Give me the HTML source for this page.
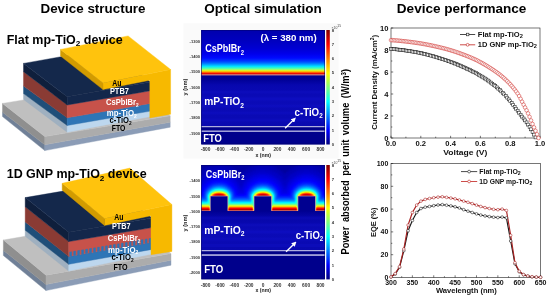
<!DOCTYPE html>
<html><head><meta charset="utf-8"><title>Graphical abstract</title>
<style>
html,body{margin:0;padding:0;background:#fff;}
body{width:550px;height:298px;overflow:hidden;}
svg{display:block;font-family:"Liberation Sans",sans-serif;}
</style></head><body>
<svg width="550" height="298" viewBox="0 0 550 298">
<defs>
<filter id="jet" x="0" y="0" width="100%" height="100%" color-interpolation-filters="sRGB" filterUnits="objectBoundingBox">
<feGaussianBlur stdDeviation="1.0"/>
<feComponentTransfer>
<feFuncR type="table" tableValues="0.000 0.000 0.000 0.000 0.000 0.000 0.000 0.000 0.000 0.000 0.000 0.000 0.000 0.000 0.000 0.000 0.000 0.000 0.000 0.000 0.000 0.000 0.000 0.000 0.050 0.111 0.173 0.234 0.295 0.356 0.417 0.479 0.540 0.601 0.663 0.724 0.785 0.846 0.908 0.969 1.000 1.000 1.000 1.000 1.000 1.000 1.000 1.000 1.000 1.000 1.000 1.000 1.000 1.000 1.000 1.000 0.990 0.929 0.868 0.806 0.745 0.684 0.623 0.561 0.500"/>
<feFuncG type="table" tableValues="0.000 0.000 0.000 0.000 0.000 0.000 0.000 0.009 0.070 0.131 0.192 0.254 0.315 0.376 0.438 0.499 0.560 0.621 0.683 0.744 0.805 0.866 0.927 0.989 1.000 1.000 1.000 1.000 1.000 1.000 1.000 1.000 1.000 1.000 1.000 1.000 1.000 1.000 1.000 1.000 0.970 0.909 0.848 0.786 0.725 0.664 0.603 0.541 0.480 0.419 0.357 0.296 0.235 0.174 0.112 0.051 0.000 0.000 0.000 0.000 0.000 0.000 0.000 0.000 0.000"/>
<feFuncB type="table" tableValues="0.580 0.641 0.703 0.764 0.825 0.886 0.948 1.000 1.000 1.000 1.000 1.000 1.000 1.000 1.000 1.000 1.000 1.000 1.000 1.000 1.000 1.000 1.000 1.000 0.950 0.889 0.827 0.766 0.705 0.644 0.583 0.521 0.460 0.399 0.337 0.276 0.215 0.154 0.092 0.031 0.000 0.000 0.000 0.000 0.000 0.000 0.000 0.000 0.000 0.000 0.000 0.000 0.000 0.000 0.000 0.000 0.000 0.000 0.000 0.000 0.000 0.000 0.000 0.000 0.000"/>
<feFuncA type="linear" slope="0" intercept="1"/>
</feComponentTransfer>
</filter>

<linearGradient id="cbar" x1="0" y1="0" x2="0" y2="1"><stop offset="0.0000" stop-color="#800000"/><stop offset="0.0625" stop-color="#bf0000"/><stop offset="0.1250" stop-color="#ff0000"/><stop offset="0.1875" stop-color="#ff4000"/><stop offset="0.2500" stop-color="#ff8000"/><stop offset="0.3125" stop-color="#ffbf00"/><stop offset="0.3750" stop-color="#ffff00"/><stop offset="0.4375" stop-color="#bfff40"/><stop offset="0.5000" stop-color="#80ff80"/><stop offset="0.5625" stop-color="#40ffbf"/><stop offset="0.6250" stop-color="#00ffff"/><stop offset="0.6875" stop-color="#00bfff"/><stop offset="0.7500" stop-color="#0080ff"/><stop offset="0.8125" stop-color="#0040ff"/><stop offset="0.8750" stop-color="#0000ff"/><stop offset="0.9375" stop-color="#0000bf"/><stop offset="1.0000" stop-color="#000080"/></linearGradient>
<linearGradient id="h1" gradientUnits="userSpaceOnUse" x1="0" y1="30.00" x2="0" y2="144.30"><stop offset="0.0000" stop-color="#0000ad"/><stop offset="0.0875" stop-color="#0000bd"/><stop offset="0.1575" stop-color="#0000d1"/><stop offset="0.2100" stop-color="#0000eb"/><stop offset="0.2450" stop-color="#000aff"/><stop offset="0.2712" stop-color="#0038ff"/><stop offset="0.2887" stop-color="#006bff"/><stop offset="0.3062" stop-color="#00b2ff"/><stop offset="0.3185" stop-color="#00e5ff"/><stop offset="0.3377" stop-color="#57ffa8"/><stop offset="0.3526" stop-color="#d1ff2e"/><stop offset="0.3648" stop-color="#ffb300"/><stop offset="0.3745" stop-color="#ff4200"/><stop offset="0.3823" stop-color="#e50000"/><stop offset="0.3885" stop-color="#9e0000"/><stop offset="0.3902" stop-color="#800000"/><stop offset="0.3903" stop-color="#00008e"/><stop offset="0.3964" stop-color="#00008e"/><stop offset="0.4287" stop-color="#000094"/><stop offset="0.4812" stop-color="#0707ae"/><stop offset="0.5949" stop-color="#0b0bb8"/><stop offset="0.7699" stop-color="#0a0ab4"/><stop offset="0.8416" stop-color="#0909b0"/></linearGradient>
<linearGradient id="tr" x1="0" y1="1" x2="0" y2="0"><stop offset="0" stop-color="#fff" stop-opacity="1"/><stop offset="0.12" stop-color="#fff" stop-opacity="0.9"/><stop offset="0.5" stop-color="#fff" stop-opacity="0.46"/><stop offset="0.8" stop-color="#fff" stop-opacity="0.12"/><stop offset="1" stop-color="#fff" stop-opacity="0"/></linearGradient>
<radialGradient id="dome" cx="0.5" cy="0.5" r="0.5"><stop offset="0" stop-color="#fff" stop-opacity="1"/><stop offset="0.15" stop-color="#fff" stop-opacity="0.97"/><stop offset="0.45" stop-color="#fff" stop-opacity="0.6"/><stop offset="0.75" stop-color="#fff" stop-opacity="0.22"/><stop offset="1" stop-color="#fff" stop-opacity="0"/></radialGradient>
<linearGradient id="wl" x1="1" y1="0" x2="0" y2="0"><stop offset="0" stop-color="#fff" stop-opacity="0.45"/><stop offset="1" stop-color="#fff" stop-opacity="0"/></linearGradient>
<linearGradient id="wr" x1="0" y1="0" x2="1" y2="0"><stop offset="0" stop-color="#fff" stop-opacity="0.45"/><stop offset="1" stop-color="#fff" stop-opacity="0"/></linearGradient>
<linearGradient id="bg2" x1="0" y1="0" x2="0" y2="1"><stop offset="0" stop-color="#030303"/><stop offset="0.6" stop-color="#030303"/><stop offset="1" stop-color="#030303"/></linearGradient>
<clipPath id="c2"><rect x="201.30" y="165" width="123.70" height="46"/></clipPath>
<marker id="ah" markerWidth="5" markerHeight="5" refX="2.6" refY="2.5" orient="auto" markerUnits="userSpaceOnUse"><path d="M0,0 L5,2.5 L0,5 z" fill="#fff"/></marker>
</defs>
<rect x="0" y="0" width="550" height="298" fill="#fff"/>
<text x="93.00" y="12.70" font-size="13.50" fill="#000" font-weight="bold" text-anchor="middle" textLength="105.00" lengthAdjust="spacingAndGlyphs" >Device structure</text>
<polygon points="2.50,112.20 44.80,144.80 44.80,150.60 2.50,116.60" fill="#708097" stroke="#708097" stroke-width="0.4" />
<polygon points="44.80,144.80 170.20,122.20 170.20,127.20 44.80,150.60" fill="#8b9cb6" stroke="#8b9cb6" stroke-width="0.4" />
<polygon points="2.50,103.40 44.80,136.60 44.80,144.80 2.50,112.20" fill="#8f8f8f" stroke="#8f8f8f" stroke-width="0.4" />
<polygon points="44.80,136.60 170.20,115.80 170.20,122.20 44.80,144.80" fill="#acacac" stroke="#acacac" stroke-width="0.4" />
<polygon points="2.50,103.40 44.80,136.60 170.20,115.80 127.90,82.60" fill="#bfbfbf" stroke="#bfbfbf" stroke-width="0.4" />
<polygon points="23.50,93.60 67.20,125.50 67.20,132.20 23.50,99.40" fill="#9fb0c0" stroke="#9fb0c0" stroke-width="0.4" />
<polygon points="67.20,125.50 150.50,111.10 150.50,116.50 67.20,132.20" fill="#bdd7ee" stroke="#bdd7ee" stroke-width="0.4" />
<polygon points="23.50,86.00 67.20,117.80 67.20,125.50 23.50,93.60" fill="#1f4e79" stroke="#1f4e79" stroke-width="0.4" />
<polygon points="67.20,117.80 150.50,103.40 150.50,111.10 67.20,125.50" fill="#2e75b6" stroke="#2e75b6" stroke-width="0.4" />
<polygon points="23.50,71.80 67.20,105.00 67.20,117.80 23.50,86.00" fill="#8a3b34" stroke="#8a3b34" stroke-width="0.4" />
<polygon points="67.20,105.00 150.50,90.80 150.50,103.40 67.20,117.80" fill="#c7524a" stroke="#c7524a" stroke-width="0.4" />
<polygon points="23.50,63.40 67.20,96.80 67.20,105.00 23.50,71.80" fill="#0f1f3c" stroke="#0f1f3c" stroke-width="0.4" />
<polygon points="67.20,96.80 150.50,82.00 150.50,90.80 67.20,105.00" fill="#13274b" stroke="#13274b" stroke-width="0.4" />
<polygon points="23.50,63.40 67.20,96.80 150.50,82.00 106.80,48.60" fill="#14284b" stroke="#14284b" stroke-width="0.4" />
<polygon points="103.00,83.00 170.60,69.50 170.60,114.20 149.80,117.90 149.80,80.25 103.00,89.60" fill="#f7b900" stroke="#f7b900" stroke-width="0.4" />
<polygon points="60.50,49.40 103.00,83.00 103.00,89.60 60.50,56.00" fill="#d29b00" stroke="#d29b00" stroke-width="0.4" />
<polygon points="60.50,49.40 103.00,83.00 170.60,69.50 128.10,35.90" fill="#ffc30d" stroke="#ffc30d" stroke-width="0.4" />
<text x="112.30" y="85.80" font-size="8.80" fill="#000" font-weight="bold" text-anchor="start" textLength="9.20" lengthAdjust="spacingAndGlyphs" >Au</text>
<text x="109.90" y="93.60" font-size="8.90" fill="#fff" font-weight="bold" text-anchor="start" textLength="19.00" lengthAdjust="spacingAndGlyphs" >PTB7</text>
<text x="106.10" y="104.80" font-size="9.70" fill="#fff" font-weight="bold" text-anchor="start" textLength="32.60" lengthAdjust="spacingAndGlyphs" >CsPbIBr<tspan font-size="62%" dy="0.32em">2</tspan></text>
<text x="106.80" y="115.60" font-size="9.70" fill="#fff" font-weight="bold" text-anchor="start" textLength="30.00" lengthAdjust="spacingAndGlyphs" >mp-TiO<tspan font-size="62%" dy="0.32em">2</tspan></text>
<text x="109.60" y="123.20" font-size="9.40" fill="#000" font-weight="bold" text-anchor="start" textLength="22.00" lengthAdjust="spacingAndGlyphs" >c-TiO<tspan font-size="62%" dy="0.32em">2</tspan></text>
<text x="111.70" y="130.70" font-size="9.20" fill="#000" font-weight="bold" text-anchor="start" textLength="13.60" lengthAdjust="spacingAndGlyphs" >FTO</text>
<polygon points="3.40,250.40 46.00,284.60 46.00,290.60 3.40,255.60" fill="#708097" stroke="#708097" stroke-width="0.4" />
<polygon points="46.00,284.60 171.00,260.20 171.00,265.20 46.00,290.60" fill="#8b9cb6" stroke="#8b9cb6" stroke-width="0.4" />
<polygon points="3.40,240.00 46.00,275.20 46.00,284.60 3.40,250.40" fill="#8f8f8f" stroke="#8f8f8f" stroke-width="0.4" />
<polygon points="46.00,275.20 171.00,253.60 171.00,260.20 46.00,284.60" fill="#acacac" stroke="#acacac" stroke-width="0.4" />
<polygon points="3.40,240.00 46.00,275.20 171.00,253.60 128.40,218.40" fill="#bfbfbf" stroke="#bfbfbf" stroke-width="0.4" />
<polygon points="25.20,230.30 68.70,264.30 68.70,271.10 25.20,236.20" fill="#9fb0c0" stroke="#9fb0c0" stroke-width="0.4" />
<polygon points="68.70,264.30 152.00,249.40 152.00,254.00 68.70,271.10" fill="#bdd7ee" stroke="#bdd7ee" stroke-width="0.4" />
<polygon points="25.20,221.90 68.70,256.40 68.70,264.30 25.20,230.30" fill="#1f4e79" stroke="#1f4e79" stroke-width="0.4" />
<polygon points="68.70,256.40 152.00,242.30 152.00,249.40 68.70,264.30" fill="#2e75b6" stroke="#2e75b6" stroke-width="0.4" />
<polygon points="25.20,206.80 68.70,241.60 68.70,256.40 25.20,221.90" fill="#8a3b34" stroke="#8a3b34" stroke-width="0.4" />
<polygon points="68.70,241.60 152.00,227.60 152.00,242.30 68.70,256.40" fill="#c7524a" stroke="#c7524a" stroke-width="0.4" />
<polygon points="25.20,197.60 68.70,232.20 68.70,241.60 25.20,206.80" fill="#0f1f3c" stroke="#0f1f3c" stroke-width="0.4" />
<polygon points="68.70,232.20 152.00,217.90 152.00,227.60 68.70,241.60" fill="#13274b" stroke="#13274b" stroke-width="0.4" />
<polygon points="25.20,197.60 68.70,232.20 152.00,217.90 108.50,183.30" fill="#14284b" stroke="#14284b" stroke-width="0.4" />
<polygon points="69.69,256.53 69.69,252.03 71.67,251.70 71.67,256.20" fill="#2e75b6" stroke="#2e75b6" stroke-width="0.4" />
<polygon points="73.66,255.86 73.66,251.36 75.64,251.02 75.64,255.52" fill="#2e75b6" stroke="#2e75b6" stroke-width="0.4" />
<polygon points="77.62,255.19 77.62,250.69 79.61,250.35 79.61,254.85" fill="#2e75b6" stroke="#2e75b6" stroke-width="0.4" />
<polygon points="81.59,254.52 81.59,250.02 83.58,249.68 83.58,254.18" fill="#2e75b6" stroke="#2e75b6" stroke-width="0.4" />
<polygon points="85.56,253.85 85.56,249.35 87.54,249.01 87.54,253.51" fill="#2e75b6" stroke="#2e75b6" stroke-width="0.4" />
<polygon points="89.53,253.18 89.53,248.68 91.51,248.34 91.51,252.84" fill="#2e75b6" stroke="#2e75b6" stroke-width="0.4" />
<polygon points="93.49,252.50 93.49,248.00 95.47,247.67 95.47,252.17" fill="#2e75b6" stroke="#2e75b6" stroke-width="0.4" />
<polygon points="97.46,251.83 97.46,247.33 99.44,247.00 99.44,251.50" fill="#2e75b6" stroke="#2e75b6" stroke-width="0.4" />
<polygon points="101.43,251.16 101.43,246.66 103.41,246.32 103.41,250.82" fill="#2e75b6" stroke="#2e75b6" stroke-width="0.4" />
<polygon points="105.39,250.49 105.39,245.99 107.38,245.65 107.38,250.15" fill="#2e75b6" stroke="#2e75b6" stroke-width="0.4" />
<polygon points="109.36,249.82 109.36,245.32 111.34,244.98 111.34,249.48" fill="#2e75b6" stroke="#2e75b6" stroke-width="0.4" />
<polygon points="113.33,249.15 113.33,244.65 115.31,244.31 115.31,248.81" fill="#2e75b6" stroke="#2e75b6" stroke-width="0.4" />
<polygon points="117.29,248.48 117.29,243.98 119.28,243.64 119.28,248.14" fill="#2e75b6" stroke="#2e75b6" stroke-width="0.4" />
<polygon points="121.26,247.80 121.26,243.30 123.24,242.97 123.24,247.47" fill="#2e75b6" stroke="#2e75b6" stroke-width="0.4" />
<polygon points="125.22,247.13 125.22,242.63 127.21,242.30 127.21,246.80" fill="#2e75b6" stroke="#2e75b6" stroke-width="0.4" />
<polygon points="129.19,246.46 129.19,241.96 131.18,241.62 131.18,246.12" fill="#2e75b6" stroke="#2e75b6" stroke-width="0.4" />
<polygon points="133.16,245.79 133.16,241.29 135.14,240.95 135.14,245.45" fill="#2e75b6" stroke="#2e75b6" stroke-width="0.4" />
<polygon points="137.12,245.12 137.12,240.62 139.11,240.28 139.11,244.78" fill="#2e75b6" stroke="#2e75b6" stroke-width="0.4" />
<polygon points="141.09,244.45 141.09,239.95 143.07,239.61 143.07,244.11" fill="#2e75b6" stroke="#2e75b6" stroke-width="0.4" />
<polygon points="145.06,243.78 145.06,239.28 147.04,238.94 147.04,243.44" fill="#2e75b6" stroke="#2e75b6" stroke-width="0.4" />
<polygon points="149.03,243.10 149.03,238.60 151.01,238.27 151.01,242.77" fill="#2e75b6" stroke="#2e75b6" stroke-width="0.4" />
<polygon points="104.40,218.50 171.90,204.50 171.90,251.40 151.00,254.70 151.00,215.73 104.40,225.40" fill="#f7b900" stroke="#f7b900" stroke-width="0.4" />
<polygon points="62.20,183.30 104.40,218.50 104.40,225.40 62.20,190.20" fill="#d29b00" stroke="#d29b00" stroke-width="0.4" />
<polygon points="62.20,183.30 104.40,218.50 171.90,204.50 129.80,168.10" fill="#ffc30d" stroke="#ffc30d" stroke-width="0.4" />
<text x="114.20" y="219.60" font-size="8.80" fill="#000" font-weight="bold" text-anchor="start" textLength="9.20" lengthAdjust="spacingAndGlyphs" >Au</text>
<text x="111.90" y="228.70" font-size="8.90" fill="#fff" font-weight="bold" text-anchor="start" textLength="18.60" lengthAdjust="spacingAndGlyphs" >PTB7</text>
<text x="107.70" y="240.60" font-size="9.70" fill="#fff" font-weight="bold" text-anchor="start" textLength="32.80" lengthAdjust="spacingAndGlyphs" >CsPbIBr<tspan font-size="62%" dy="0.32em">2</tspan></text>
<text x="108.10" y="252.50" font-size="9.70" fill="#fff" font-weight="bold" text-anchor="start" textLength="30.20" lengthAdjust="spacingAndGlyphs" >mp-TiO<tspan font-size="62%" dy="0.32em">2</tspan></text>
<text x="111.40" y="259.90" font-size="9.40" fill="#000" font-weight="bold" text-anchor="start" textLength="22.20" lengthAdjust="spacingAndGlyphs" >c-TiO<tspan font-size="62%" dy="0.32em">2</tspan></text>
<text x="113.50" y="269.80" font-size="9.20" fill="#000" font-weight="bold" text-anchor="start" textLength="14.20" lengthAdjust="spacingAndGlyphs" >FTO</text>
<text x="6.70" y="43.50" font-size="12.20" fill="#000" font-weight="bold" text-anchor="start" textLength="116.00" lengthAdjust="spacingAndGlyphs" >Flat mp-TiO<tspan font-size="65%" dy="0.34em">2</tspan><tspan dy="-0.22em"> device</tspan></text>
<text x="6.70" y="177.90" font-size="12.20" fill="#000" font-weight="bold" text-anchor="start" textLength="140.00" lengthAdjust="spacingAndGlyphs" >1D GNP mp-TiO<tspan font-size="65%" dy="0.34em">2</tspan><tspan dy="-0.22em"> device</tspan></text>
<rect x="183.5" y="23.3" width="155" height="135.2" fill="#fafafa"/>
<text x="263.00" y="12.70" font-size="13.50" fill="#000" font-weight="bold" text-anchor="middle" textLength="117.50" lengthAdjust="spacingAndGlyphs" >Optical simulation</text>
<rect x="201.30" y="30.00" width="123.70" height="114.30" fill="#00008c"/>
<rect x="201.30" y="30.00" width="123.70" height="96.20" fill="url(#h1)"/>
<rect x="201.30" y="74.35" width="123.70" height="1.0" fill="#f8a096"/>
<rect x="201.30" y="126.2" width="123.70" height="5.6" fill="#000088"/>
<rect x="201.30" y="126.2" width="123.70" height="1" fill="#d8d8f4"/>
<rect x="201.30" y="130.6" width="123.70" height="1.3" fill="#dedef8"/>
<rect x="201.30" y="131.8" width="123.70" height="12.50" fill="#00008c"/>
<rect x="201.30" y="165.00" width="123.70" height="114.30" fill="#00008c"/>
<g clip-path="url(#c2)"><g filter="url(#jet)" style="isolation:isolate">
<rect x="195.30" y="159.00" width="135.70" height="58.00" fill="url(#bg2)"/>
<g style="mix-blend-mode:lighten">
<rect x="204.85" y="195.00" width="5.40" height="15.70" fill="#222222" style="mix-blend-mode:lighten"/>
<rect x="205.85" y="195.00" width="4.40" height="15.70" fill="#2c2c2c" style="mix-blend-mode:lighten"/>
<rect x="206.65" y="195.00" width="3.60" height="15.70" fill="#393939" style="mix-blend-mode:lighten"/>
<rect x="207.35" y="195.00" width="2.90" height="15.70" fill="#494949" style="mix-blend-mode:lighten"/>
<rect x="207.95" y="195.00" width="2.30" height="15.70" fill="#585858" style="mix-blend-mode:lighten"/>
<rect x="208.55" y="195.00" width="1.70" height="15.70" fill="#686868" style="mix-blend-mode:lighten"/>
<rect x="209.15" y="195.00" width="1.10" height="15.70" fill="#787878" style="mix-blend-mode:lighten"/>
<rect x="209.75" y="195.00" width="0.50" height="15.70" fill="#878787" style="mix-blend-mode:lighten"/>
<rect x="191.30" y="177.70" width="18.95" height="36.00" fill="#080808" style="mix-blend-mode:lighten"/>
<rect x="191.30" y="182.70" width="18.95" height="31.00" fill="#0c0c0c" style="mix-blend-mode:lighten"/>
<rect x="191.30" y="186.70" width="18.95" height="27.00" fill="#101010" style="mix-blend-mode:lighten"/>
<rect x="191.30" y="189.70" width="18.95" height="24.00" fill="#141414" style="mix-blend-mode:lighten"/>
<rect x="191.30" y="192.20" width="18.95" height="21.50" fill="#171717" style="mix-blend-mode:lighten"/>
<rect x="191.30" y="194.20" width="18.95" height="19.50" fill="#1b1b1b" style="mix-blend-mode:lighten"/>
<rect x="191.30" y="195.70" width="18.95" height="18.00" fill="#222222" style="mix-blend-mode:lighten"/>
<rect x="191.30" y="197.20" width="18.95" height="16.50" fill="#2a2a2a" style="mix-blend-mode:lighten"/>
<rect x="191.30" y="198.50" width="18.95" height="15.20" fill="#313131" style="mix-blend-mode:lighten"/>
<rect x="191.30" y="199.70" width="18.95" height="14.00" fill="#3c3c3c" style="mix-blend-mode:lighten"/>
<rect x="191.30" y="200.70" width="18.95" height="13.00" fill="#464646" style="mix-blend-mode:lighten"/>
<rect x="191.30" y="201.60" width="18.95" height="12.10" fill="#515151" style="mix-blend-mode:lighten"/>
<rect x="191.30" y="202.40" width="18.95" height="11.30" fill="#5b5b5b" style="mix-blend-mode:lighten"/>
<rect x="191.30" y="203.30" width="18.95" height="10.40" fill="#686868" style="mix-blend-mode:lighten"/>
<rect x="191.30" y="203.90" width="18.95" height="9.80" fill="#727272" style="mix-blend-mode:lighten"/>
<rect x="191.30" y="204.50" width="18.95" height="9.20" fill="#7d7d7d" style="mix-blend-mode:lighten"/>
<rect x="191.30" y="205.00" width="18.95" height="8.70" fill="#878787" style="mix-blend-mode:lighten"/>
<rect x="191.30" y="205.50" width="18.95" height="8.20" fill="#929292" style="mix-blend-mode:lighten"/>
<rect x="191.30" y="206.00" width="18.95" height="7.70" fill="#9f9f9f" style="mix-blend-mode:lighten"/>
<rect x="191.30" y="206.40" width="18.95" height="7.30" fill="#acacac" style="mix-blend-mode:lighten"/>
<rect x="191.30" y="206.80" width="18.95" height="6.90" fill="#bbbbbb" style="mix-blend-mode:lighten"/>
<rect x="191.30" y="207.20" width="18.95" height="6.50" fill="#c6c6c6" style="mix-blend-mode:lighten"/>
<rect x="191.30" y="207.60" width="18.95" height="6.10" fill="#d0d0d0" style="mix-blend-mode:lighten"/>
<rect x="191.30" y="208.00" width="18.95" height="5.70" fill="#dbdbdb" style="mix-blend-mode:lighten"/>
<rect x="191.30" y="208.40" width="18.95" height="5.30" fill="#e5e5e5" style="mix-blend-mode:lighten"/>
<rect x="191.30" y="208.90" width="18.95" height="4.80" fill="#efefef" style="mix-blend-mode:lighten"/>
<rect x="191.30" y="209.40" width="18.95" height="4.30" fill="#f7f7f7" style="mix-blend-mode:lighten"/>
<rect x="191.30" y="209.90" width="18.95" height="3.80" fill="#ffffff" style="mix-blend-mode:lighten"/>
<rect x="227.85" y="195.00" width="5.40" height="15.70" fill="#222222" style="mix-blend-mode:lighten"/>
<rect x="248.60" y="195.00" width="5.40" height="15.70" fill="#222222" style="mix-blend-mode:lighten"/>
<rect x="227.85" y="195.00" width="4.40" height="15.70" fill="#2c2c2c" style="mix-blend-mode:lighten"/>
<rect x="249.60" y="195.00" width="4.40" height="15.70" fill="#2c2c2c" style="mix-blend-mode:lighten"/>
<rect x="227.85" y="195.00" width="3.60" height="15.70" fill="#393939" style="mix-blend-mode:lighten"/>
<rect x="250.40" y="195.00" width="3.60" height="15.70" fill="#393939" style="mix-blend-mode:lighten"/>
<rect x="227.85" y="195.00" width="2.90" height="15.70" fill="#494949" style="mix-blend-mode:lighten"/>
<rect x="251.10" y="195.00" width="2.90" height="15.70" fill="#494949" style="mix-blend-mode:lighten"/>
<rect x="227.85" y="195.00" width="2.30" height="15.70" fill="#585858" style="mix-blend-mode:lighten"/>
<rect x="251.70" y="195.00" width="2.30" height="15.70" fill="#585858" style="mix-blend-mode:lighten"/>
<rect x="227.85" y="195.00" width="1.70" height="15.70" fill="#686868" style="mix-blend-mode:lighten"/>
<rect x="252.30" y="195.00" width="1.70" height="15.70" fill="#686868" style="mix-blend-mode:lighten"/>
<rect x="227.85" y="195.00" width="1.10" height="15.70" fill="#787878" style="mix-blend-mode:lighten"/>
<rect x="252.90" y="195.00" width="1.10" height="15.70" fill="#787878" style="mix-blend-mode:lighten"/>
<rect x="227.85" y="195.00" width="0.50" height="15.70" fill="#878787" style="mix-blend-mode:lighten"/>
<rect x="253.50" y="195.00" width="0.50" height="15.70" fill="#878787" style="mix-blend-mode:lighten"/>
<rect x="227.85" y="177.70" width="26.15" height="36.00" fill="#080808" style="mix-blend-mode:lighten"/>
<rect x="227.85" y="182.70" width="26.15" height="31.00" fill="#0c0c0c" style="mix-blend-mode:lighten"/>
<rect x="227.85" y="186.70" width="26.15" height="27.00" fill="#101010" style="mix-blend-mode:lighten"/>
<rect x="227.85" y="189.70" width="26.15" height="24.00" fill="#141414" style="mix-blend-mode:lighten"/>
<rect x="227.85" y="192.20" width="26.15" height="21.50" fill="#171717" style="mix-blend-mode:lighten"/>
<rect x="227.85" y="194.20" width="26.15" height="19.50" fill="#1b1b1b" style="mix-blend-mode:lighten"/>
<rect x="227.85" y="195.70" width="26.15" height="18.00" fill="#222222" style="mix-blend-mode:lighten"/>
<rect x="227.85" y="197.20" width="26.15" height="16.50" fill="#2a2a2a" style="mix-blend-mode:lighten"/>
<rect x="227.85" y="198.50" width="26.15" height="15.20" fill="#313131" style="mix-blend-mode:lighten"/>
<rect x="227.85" y="199.70" width="26.15" height="14.00" fill="#3c3c3c" style="mix-blend-mode:lighten"/>
<rect x="227.85" y="200.70" width="26.15" height="13.00" fill="#464646" style="mix-blend-mode:lighten"/>
<rect x="227.85" y="201.60" width="26.15" height="12.10" fill="#515151" style="mix-blend-mode:lighten"/>
<rect x="227.85" y="202.40" width="26.15" height="11.30" fill="#5b5b5b" style="mix-blend-mode:lighten"/>
<rect x="227.85" y="203.30" width="26.15" height="10.40" fill="#686868" style="mix-blend-mode:lighten"/>
<rect x="227.85" y="203.90" width="26.15" height="9.80" fill="#727272" style="mix-blend-mode:lighten"/>
<rect x="227.85" y="204.50" width="26.15" height="9.20" fill="#7d7d7d" style="mix-blend-mode:lighten"/>
<rect x="227.85" y="205.00" width="26.15" height="8.70" fill="#878787" style="mix-blend-mode:lighten"/>
<rect x="227.85" y="205.50" width="26.15" height="8.20" fill="#929292" style="mix-blend-mode:lighten"/>
<rect x="227.85" y="206.00" width="26.15" height="7.70" fill="#9f9f9f" style="mix-blend-mode:lighten"/>
<rect x="227.85" y="206.40" width="26.15" height="7.30" fill="#acacac" style="mix-blend-mode:lighten"/>
<rect x="227.85" y="206.80" width="26.15" height="6.90" fill="#bbbbbb" style="mix-blend-mode:lighten"/>
<rect x="227.85" y="207.20" width="26.15" height="6.50" fill="#c6c6c6" style="mix-blend-mode:lighten"/>
<rect x="227.85" y="207.60" width="26.15" height="6.10" fill="#d0d0d0" style="mix-blend-mode:lighten"/>
<rect x="227.85" y="208.00" width="26.15" height="5.70" fill="#dbdbdb" style="mix-blend-mode:lighten"/>
<rect x="227.85" y="208.40" width="26.15" height="5.30" fill="#e5e5e5" style="mix-blend-mode:lighten"/>
<rect x="227.85" y="208.90" width="26.15" height="4.80" fill="#efefef" style="mix-blend-mode:lighten"/>
<rect x="227.85" y="209.40" width="26.15" height="4.30" fill="#f7f7f7" style="mix-blend-mode:lighten"/>
<rect x="227.85" y="209.90" width="26.15" height="3.80" fill="#ffffff" style="mix-blend-mode:lighten"/>
<rect x="271.60" y="195.00" width="5.40" height="15.70" fill="#222222" style="mix-blend-mode:lighten"/>
<rect x="292.50" y="195.00" width="5.40" height="15.70" fill="#222222" style="mix-blend-mode:lighten"/>
<rect x="271.60" y="195.00" width="4.40" height="15.70" fill="#2c2c2c" style="mix-blend-mode:lighten"/>
<rect x="293.50" y="195.00" width="4.40" height="15.70" fill="#2c2c2c" style="mix-blend-mode:lighten"/>
<rect x="271.60" y="195.00" width="3.60" height="15.70" fill="#393939" style="mix-blend-mode:lighten"/>
<rect x="294.30" y="195.00" width="3.60" height="15.70" fill="#393939" style="mix-blend-mode:lighten"/>
<rect x="271.60" y="195.00" width="2.90" height="15.70" fill="#494949" style="mix-blend-mode:lighten"/>
<rect x="295.00" y="195.00" width="2.90" height="15.70" fill="#494949" style="mix-blend-mode:lighten"/>
<rect x="271.60" y="195.00" width="2.30" height="15.70" fill="#585858" style="mix-blend-mode:lighten"/>
<rect x="295.60" y="195.00" width="2.30" height="15.70" fill="#585858" style="mix-blend-mode:lighten"/>
<rect x="271.60" y="195.00" width="1.70" height="15.70" fill="#686868" style="mix-blend-mode:lighten"/>
<rect x="296.20" y="195.00" width="1.70" height="15.70" fill="#686868" style="mix-blend-mode:lighten"/>
<rect x="271.60" y="195.00" width="1.10" height="15.70" fill="#787878" style="mix-blend-mode:lighten"/>
<rect x="296.80" y="195.00" width="1.10" height="15.70" fill="#787878" style="mix-blend-mode:lighten"/>
<rect x="271.60" y="195.00" width="0.50" height="15.70" fill="#878787" style="mix-blend-mode:lighten"/>
<rect x="297.40" y="195.00" width="0.50" height="15.70" fill="#878787" style="mix-blend-mode:lighten"/>
<rect x="271.60" y="177.70" width="26.30" height="36.00" fill="#080808" style="mix-blend-mode:lighten"/>
<rect x="271.60" y="182.70" width="26.30" height="31.00" fill="#0c0c0c" style="mix-blend-mode:lighten"/>
<rect x="271.60" y="186.70" width="26.30" height="27.00" fill="#101010" style="mix-blend-mode:lighten"/>
<rect x="271.60" y="189.70" width="26.30" height="24.00" fill="#141414" style="mix-blend-mode:lighten"/>
<rect x="271.60" y="192.20" width="26.30" height="21.50" fill="#171717" style="mix-blend-mode:lighten"/>
<rect x="271.60" y="194.20" width="26.30" height="19.50" fill="#1b1b1b" style="mix-blend-mode:lighten"/>
<rect x="271.60" y="195.70" width="26.30" height="18.00" fill="#222222" style="mix-blend-mode:lighten"/>
<rect x="271.60" y="197.20" width="26.30" height="16.50" fill="#2a2a2a" style="mix-blend-mode:lighten"/>
<rect x="271.60" y="198.50" width="26.30" height="15.20" fill="#313131" style="mix-blend-mode:lighten"/>
<rect x="271.60" y="199.70" width="26.30" height="14.00" fill="#3c3c3c" style="mix-blend-mode:lighten"/>
<rect x="271.60" y="200.70" width="26.30" height="13.00" fill="#464646" style="mix-blend-mode:lighten"/>
<rect x="271.60" y="201.60" width="26.30" height="12.10" fill="#515151" style="mix-blend-mode:lighten"/>
<rect x="271.60" y="202.40" width="26.30" height="11.30" fill="#5b5b5b" style="mix-blend-mode:lighten"/>
<rect x="271.60" y="203.30" width="26.30" height="10.40" fill="#686868" style="mix-blend-mode:lighten"/>
<rect x="271.60" y="203.90" width="26.30" height="9.80" fill="#727272" style="mix-blend-mode:lighten"/>
<rect x="271.60" y="204.50" width="26.30" height="9.20" fill="#7d7d7d" style="mix-blend-mode:lighten"/>
<rect x="271.60" y="205.00" width="26.30" height="8.70" fill="#878787" style="mix-blend-mode:lighten"/>
<rect x="271.60" y="205.50" width="26.30" height="8.20" fill="#929292" style="mix-blend-mode:lighten"/>
<rect x="271.60" y="206.00" width="26.30" height="7.70" fill="#9f9f9f" style="mix-blend-mode:lighten"/>
<rect x="271.60" y="206.40" width="26.30" height="7.30" fill="#acacac" style="mix-blend-mode:lighten"/>
<rect x="271.60" y="206.80" width="26.30" height="6.90" fill="#bbbbbb" style="mix-blend-mode:lighten"/>
<rect x="271.60" y="207.20" width="26.30" height="6.50" fill="#c6c6c6" style="mix-blend-mode:lighten"/>
<rect x="271.60" y="207.60" width="26.30" height="6.10" fill="#d0d0d0" style="mix-blend-mode:lighten"/>
<rect x="271.60" y="208.00" width="26.30" height="5.70" fill="#dbdbdb" style="mix-blend-mode:lighten"/>
<rect x="271.60" y="208.40" width="26.30" height="5.30" fill="#e5e5e5" style="mix-blend-mode:lighten"/>
<rect x="271.60" y="208.90" width="26.30" height="4.80" fill="#efefef" style="mix-blend-mode:lighten"/>
<rect x="271.60" y="209.40" width="26.30" height="4.30" fill="#f7f7f7" style="mix-blend-mode:lighten"/>
<rect x="271.60" y="209.90" width="26.30" height="3.80" fill="#ffffff" style="mix-blend-mode:lighten"/>
<rect x="315.50" y="195.00" width="5.40" height="15.70" fill="#222222" style="mix-blend-mode:lighten"/>
<rect x="315.50" y="195.00" width="4.40" height="15.70" fill="#2c2c2c" style="mix-blend-mode:lighten"/>
<rect x="315.50" y="195.00" width="3.60" height="15.70" fill="#393939" style="mix-blend-mode:lighten"/>
<rect x="315.50" y="195.00" width="2.90" height="15.70" fill="#494949" style="mix-blend-mode:lighten"/>
<rect x="315.50" y="195.00" width="2.30" height="15.70" fill="#585858" style="mix-blend-mode:lighten"/>
<rect x="315.50" y="195.00" width="1.70" height="15.70" fill="#686868" style="mix-blend-mode:lighten"/>
<rect x="315.50" y="195.00" width="1.10" height="15.70" fill="#787878" style="mix-blend-mode:lighten"/>
<rect x="315.50" y="195.00" width="0.50" height="15.70" fill="#878787" style="mix-blend-mode:lighten"/>
<rect x="315.50" y="177.70" width="19.50" height="36.00" fill="#080808" style="mix-blend-mode:lighten"/>
<rect x="315.50" y="182.70" width="19.50" height="31.00" fill="#0c0c0c" style="mix-blend-mode:lighten"/>
<rect x="315.50" y="186.70" width="19.50" height="27.00" fill="#101010" style="mix-blend-mode:lighten"/>
<rect x="315.50" y="189.70" width="19.50" height="24.00" fill="#141414" style="mix-blend-mode:lighten"/>
<rect x="315.50" y="192.20" width="19.50" height="21.50" fill="#171717" style="mix-blend-mode:lighten"/>
<rect x="315.50" y="194.20" width="19.50" height="19.50" fill="#1b1b1b" style="mix-blend-mode:lighten"/>
<rect x="315.50" y="195.70" width="19.50" height="18.00" fill="#222222" style="mix-blend-mode:lighten"/>
<rect x="315.50" y="197.20" width="19.50" height="16.50" fill="#2a2a2a" style="mix-blend-mode:lighten"/>
<rect x="315.50" y="198.50" width="19.50" height="15.20" fill="#313131" style="mix-blend-mode:lighten"/>
<rect x="315.50" y="199.70" width="19.50" height="14.00" fill="#3c3c3c" style="mix-blend-mode:lighten"/>
<rect x="315.50" y="200.70" width="19.50" height="13.00" fill="#464646" style="mix-blend-mode:lighten"/>
<rect x="315.50" y="201.60" width="19.50" height="12.10" fill="#515151" style="mix-blend-mode:lighten"/>
<rect x="315.50" y="202.40" width="19.50" height="11.30" fill="#5b5b5b" style="mix-blend-mode:lighten"/>
<rect x="315.50" y="203.30" width="19.50" height="10.40" fill="#686868" style="mix-blend-mode:lighten"/>
<rect x="315.50" y="203.90" width="19.50" height="9.80" fill="#727272" style="mix-blend-mode:lighten"/>
<rect x="315.50" y="204.50" width="19.50" height="9.20" fill="#7d7d7d" style="mix-blend-mode:lighten"/>
<rect x="315.50" y="205.00" width="19.50" height="8.70" fill="#878787" style="mix-blend-mode:lighten"/>
<rect x="315.50" y="205.50" width="19.50" height="8.20" fill="#929292" style="mix-blend-mode:lighten"/>
<rect x="315.50" y="206.00" width="19.50" height="7.70" fill="#9f9f9f" style="mix-blend-mode:lighten"/>
<rect x="315.50" y="206.40" width="19.50" height="7.30" fill="#acacac" style="mix-blend-mode:lighten"/>
<rect x="315.50" y="206.80" width="19.50" height="6.90" fill="#bbbbbb" style="mix-blend-mode:lighten"/>
<rect x="315.50" y="207.20" width="19.50" height="6.50" fill="#c6c6c6" style="mix-blend-mode:lighten"/>
<rect x="315.50" y="207.60" width="19.50" height="6.10" fill="#d0d0d0" style="mix-blend-mode:lighten"/>
<rect x="315.50" y="208.00" width="19.50" height="5.70" fill="#dbdbdb" style="mix-blend-mode:lighten"/>
<rect x="315.50" y="208.40" width="19.50" height="5.30" fill="#e5e5e5" style="mix-blend-mode:lighten"/>
<rect x="315.50" y="208.90" width="19.50" height="4.80" fill="#efefef" style="mix-blend-mode:lighten"/>
<rect x="315.50" y="209.40" width="19.50" height="4.30" fill="#f7f7f7" style="mix-blend-mode:lighten"/>
<rect x="315.50" y="209.90" width="19.50" height="3.80" fill="#ffffff" style="mix-blend-mode:lighten"/>
<ellipse cx="219.05" cy="196.30" rx="31.00" ry="32.00" fill="#080808" style="mix-blend-mode:lighten"/>
<ellipse cx="219.05" cy="196.30" rx="27.00" ry="27.50" fill="#0c0c0c" style="mix-blend-mode:lighten"/>
<ellipse cx="219.05" cy="196.30" rx="24.00" ry="24.00" fill="#101010" style="mix-blend-mode:lighten"/>
<ellipse cx="219.05" cy="196.30" rx="22.00" ry="21.50" fill="#141414" style="mix-blend-mode:lighten"/>
<ellipse cx="219.05" cy="196.30" rx="20.00" ry="19.00" fill="#171717" style="mix-blend-mode:lighten"/>
<ellipse cx="219.05" cy="196.30" rx="18.50" ry="17.00" fill="#1b1b1b" style="mix-blend-mode:lighten"/>
<ellipse cx="219.05" cy="196.30" rx="17.00" ry="15.00" fill="#1f1f1f" style="mix-blend-mode:lighten"/>
<ellipse cx="219.05" cy="196.30" rx="15.60" ry="13.30" fill="#262626" style="mix-blend-mode:lighten"/>
<ellipse cx="219.05" cy="196.30" rx="14.40" ry="11.80" fill="#2f2f2f" style="mix-blend-mode:lighten"/>
<ellipse cx="219.05" cy="196.30" rx="13.20" ry="10.30" fill="#3c3c3c" style="mix-blend-mode:lighten"/>
<ellipse cx="219.05" cy="196.30" rx="12.10" ry="9.00" fill="#494949" style="mix-blend-mode:lighten"/>
<ellipse cx="219.05" cy="196.30" rx="11.10" ry="7.70" fill="#5b5b5b" style="mix-blend-mode:lighten"/>
<ellipse cx="219.05" cy="196.30" rx="10.20" ry="6.40" fill="#6d6d6d" style="mix-blend-mode:lighten"/>
<ellipse cx="219.05" cy="196.30" rx="9.60" ry="5.60" fill="#7d7d7d" style="mix-blend-mode:lighten"/>
<ellipse cx="219.05" cy="196.30" rx="9.00" ry="5.00" fill="#8d8d8d" style="mix-blend-mode:lighten"/>
<ellipse cx="219.05" cy="196.30" rx="8.50" ry="4.40" fill="#9f9f9f" style="mix-blend-mode:lighten"/>
<ellipse cx="219.05" cy="196.30" rx="8.00" ry="3.90" fill="#b1b1b1" style="mix-blend-mode:lighten"/>
<ellipse cx="219.05" cy="196.30" rx="7.50" ry="3.50" fill="#c3c3c3" style="mix-blend-mode:lighten"/>
<ellipse cx="219.05" cy="196.30" rx="6.90" ry="3.00" fill="#d8d8d8" style="mix-blend-mode:lighten"/>
<ellipse cx="219.05" cy="196.30" rx="6.30" ry="2.40" fill="#ededed" style="mix-blend-mode:lighten"/>
<ellipse cx="219.05" cy="196.30" rx="5.60" ry="1.80" fill="#ffffff" style="mix-blend-mode:lighten"/>
<ellipse cx="262.80" cy="196.30" rx="31.00" ry="32.00" fill="#080808" style="mix-blend-mode:lighten"/>
<ellipse cx="262.80" cy="196.30" rx="27.00" ry="27.50" fill="#0c0c0c" style="mix-blend-mode:lighten"/>
<ellipse cx="262.80" cy="196.30" rx="24.00" ry="24.00" fill="#101010" style="mix-blend-mode:lighten"/>
<ellipse cx="262.80" cy="196.30" rx="22.00" ry="21.50" fill="#141414" style="mix-blend-mode:lighten"/>
<ellipse cx="262.80" cy="196.30" rx="20.00" ry="19.00" fill="#171717" style="mix-blend-mode:lighten"/>
<ellipse cx="262.80" cy="196.30" rx="18.50" ry="17.00" fill="#1b1b1b" style="mix-blend-mode:lighten"/>
<ellipse cx="262.80" cy="196.30" rx="17.00" ry="15.00" fill="#1f1f1f" style="mix-blend-mode:lighten"/>
<ellipse cx="262.80" cy="196.30" rx="15.60" ry="13.30" fill="#262626" style="mix-blend-mode:lighten"/>
<ellipse cx="262.80" cy="196.30" rx="14.40" ry="11.80" fill="#2f2f2f" style="mix-blend-mode:lighten"/>
<ellipse cx="262.80" cy="196.30" rx="13.20" ry="10.30" fill="#3c3c3c" style="mix-blend-mode:lighten"/>
<ellipse cx="262.80" cy="196.30" rx="12.10" ry="9.00" fill="#494949" style="mix-blend-mode:lighten"/>
<ellipse cx="262.80" cy="196.30" rx="11.10" ry="7.70" fill="#5b5b5b" style="mix-blend-mode:lighten"/>
<ellipse cx="262.80" cy="196.30" rx="10.20" ry="6.40" fill="#6d6d6d" style="mix-blend-mode:lighten"/>
<ellipse cx="262.80" cy="196.30" rx="9.60" ry="5.60" fill="#7d7d7d" style="mix-blend-mode:lighten"/>
<ellipse cx="262.80" cy="196.30" rx="9.00" ry="5.00" fill="#8d8d8d" style="mix-blend-mode:lighten"/>
<ellipse cx="262.80" cy="196.30" rx="8.50" ry="4.40" fill="#9f9f9f" style="mix-blend-mode:lighten"/>
<ellipse cx="262.80" cy="196.30" rx="8.00" ry="3.90" fill="#b1b1b1" style="mix-blend-mode:lighten"/>
<ellipse cx="262.80" cy="196.30" rx="7.50" ry="3.50" fill="#c3c3c3" style="mix-blend-mode:lighten"/>
<ellipse cx="262.80" cy="196.30" rx="6.90" ry="3.00" fill="#d8d8d8" style="mix-blend-mode:lighten"/>
<ellipse cx="262.80" cy="196.30" rx="6.30" ry="2.40" fill="#ededed" style="mix-blend-mode:lighten"/>
<ellipse cx="262.80" cy="196.30" rx="5.60" ry="1.80" fill="#ffffff" style="mix-blend-mode:lighten"/>
<ellipse cx="306.70" cy="196.30" rx="31.00" ry="32.00" fill="#080808" style="mix-blend-mode:lighten"/>
<ellipse cx="306.70" cy="196.30" rx="27.00" ry="27.50" fill="#0c0c0c" style="mix-blend-mode:lighten"/>
<ellipse cx="306.70" cy="196.30" rx="24.00" ry="24.00" fill="#101010" style="mix-blend-mode:lighten"/>
<ellipse cx="306.70" cy="196.30" rx="22.00" ry="21.50" fill="#141414" style="mix-blend-mode:lighten"/>
<ellipse cx="306.70" cy="196.30" rx="20.00" ry="19.00" fill="#171717" style="mix-blend-mode:lighten"/>
<ellipse cx="306.70" cy="196.30" rx="18.50" ry="17.00" fill="#1b1b1b" style="mix-blend-mode:lighten"/>
<ellipse cx="306.70" cy="196.30" rx="17.00" ry="15.00" fill="#1f1f1f" style="mix-blend-mode:lighten"/>
<ellipse cx="306.70" cy="196.30" rx="15.60" ry="13.30" fill="#262626" style="mix-blend-mode:lighten"/>
<ellipse cx="306.70" cy="196.30" rx="14.40" ry="11.80" fill="#2f2f2f" style="mix-blend-mode:lighten"/>
<ellipse cx="306.70" cy="196.30" rx="13.20" ry="10.30" fill="#3c3c3c" style="mix-blend-mode:lighten"/>
<ellipse cx="306.70" cy="196.30" rx="12.10" ry="9.00" fill="#494949" style="mix-blend-mode:lighten"/>
<ellipse cx="306.70" cy="196.30" rx="11.10" ry="7.70" fill="#5b5b5b" style="mix-blend-mode:lighten"/>
<ellipse cx="306.70" cy="196.30" rx="10.20" ry="6.40" fill="#6d6d6d" style="mix-blend-mode:lighten"/>
<ellipse cx="306.70" cy="196.30" rx="9.60" ry="5.60" fill="#7d7d7d" style="mix-blend-mode:lighten"/>
<ellipse cx="306.70" cy="196.30" rx="9.00" ry="5.00" fill="#8d8d8d" style="mix-blend-mode:lighten"/>
<ellipse cx="306.70" cy="196.30" rx="8.50" ry="4.40" fill="#9f9f9f" style="mix-blend-mode:lighten"/>
<ellipse cx="306.70" cy="196.30" rx="8.00" ry="3.90" fill="#b1b1b1" style="mix-blend-mode:lighten"/>
<ellipse cx="306.70" cy="196.30" rx="7.50" ry="3.50" fill="#c3c3c3" style="mix-blend-mode:lighten"/>
<ellipse cx="306.70" cy="196.30" rx="6.90" ry="3.00" fill="#d8d8d8" style="mix-blend-mode:lighten"/>
<ellipse cx="306.70" cy="196.30" rx="6.30" ry="2.40" fill="#ededed" style="mix-blend-mode:lighten"/>
<ellipse cx="306.70" cy="196.30" rx="5.60" ry="1.80" fill="#ffffff" style="mix-blend-mode:lighten"/>
</g>
</g></g>
<rect x="210.25" y="196.00" width="17.60" height="15.70" fill="#000090"/>
<rect x="254.00" y="196.00" width="17.60" height="15.70" fill="#000090"/>
<rect x="297.90" y="196.00" width="17.60" height="15.70" fill="#000090"/>
<path d="M201.30,210.70 H210.25 V196.00 H227.85 V210.70 H254.00 V196.00 H271.60 V210.70 H297.90 V196.00 H315.50 V210.70 H325.00" fill="none" stroke="#ffb0a8" stroke-width="0.7" stroke-opacity="0.85"/>
<linearGradient id="h2b" x1="0" y1="0" x2="0" y2="1"><stop offset="0" stop-color="#000092"/><stop offset="0.15" stop-color="#0606a8"/><stop offset="0.5" stop-color="#0b0bb8"/><stop offset="1" stop-color="#0909b0"/></linearGradient>
<rect x="201.30" y="211.10" width="123.70" height="39.30" fill="url(#h2b)"/>
<rect x="201.30" y="250.4" width="123.70" height="5.2" fill="#000088"/>
<rect x="201.30" y="250.2" width="123.70" height="1" fill="#d8d8f4"/>
<rect x="201.30" y="254.4" width="123.70" height="1.3" fill="#dedef8"/>
<rect x="201.30" y="90.50" width="123.70" height="3" fill="#2a2aff" fill-opacity="0.10"/>
<rect x="201.30" y="97.50" width="123.70" height="3" fill="#2a2aff" fill-opacity="0.10"/>
<rect x="201.30" y="104.50" width="123.70" height="3" fill="#2a2aff" fill-opacity="0.10"/>
<rect x="201.30" y="111.50" width="123.70" height="3" fill="#2a2aff" fill-opacity="0.10"/>
<rect x="201.30" y="118.50" width="123.70" height="3" fill="#2a2aff" fill-opacity="0.10"/>
<rect x="201.30" y="216.50" width="123.70" height="3" fill="#2a2aff" fill-opacity="0.10"/>
<rect x="201.30" y="223.50" width="123.70" height="3" fill="#2a2aff" fill-opacity="0.10"/>
<rect x="201.30" y="230.50" width="123.70" height="3" fill="#2a2aff" fill-opacity="0.10"/>
<rect x="201.30" y="237.50" width="123.70" height="3" fill="#2a2aff" fill-opacity="0.10"/>
<rect x="201.30" y="244.00" width="123.70" height="3" fill="#2a2aff" fill-opacity="0.10"/>
<rect x="201.65" y="30.35" width="123.00" height="113.60" fill="none" stroke="#000066" stroke-opacity="0.7" stroke-width="0.7"/>
<rect x="201.65" y="165.35" width="123.00" height="113.60" fill="none" stroke="#000066" stroke-opacity="0.7" stroke-width="0.7"/>
<rect x="326.3" y="30.00" width="3.5" height="114.50" fill="url(#cbar)"/>
<text x="331.80" y="146.00" font-size="4.20" fill="#333" font-weight="bold" text-anchor="start" >0</text>
<text x="331.80" y="131.69" font-size="4.20" fill="#333" font-weight="bold" text-anchor="start" >1</text>
<text x="331.80" y="117.38" font-size="4.20" fill="#333" font-weight="bold" text-anchor="start" >2</text>
<text x="331.80" y="103.06" font-size="4.20" fill="#333" font-weight="bold" text-anchor="start" >3</text>
<text x="331.80" y="88.75" font-size="4.20" fill="#333" font-weight="bold" text-anchor="start" >4</text>
<text x="331.80" y="74.44" font-size="4.20" fill="#333" font-weight="bold" text-anchor="start" >5</text>
<text x="331.80" y="60.12" font-size="4.20" fill="#333" font-weight="bold" text-anchor="start" >6</text>
<text x="331.80" y="45.81" font-size="4.20" fill="#333" font-weight="bold" text-anchor="start" >7</text>
<text x="331.80" y="31.50" font-size="4.20" fill="#333" font-weight="bold" text-anchor="start" >8</text>
<text x="331.60" y="28.80" font-size="3.40" fill="#444" font-weight="normal" text-anchor="start" >×10<tspan font-size="70%%" dy="-0.4em">15</tspan></text>
<rect x="326.3" y="165.00" width="3.5" height="114.40" fill="url(#cbar)"/>
<text x="331.80" y="280.90" font-size="4.20" fill="#333" font-weight="bold" text-anchor="start" >0</text>
<text x="331.80" y="266.60" font-size="4.20" fill="#333" font-weight="bold" text-anchor="start" >1</text>
<text x="331.80" y="252.30" font-size="4.20" fill="#333" font-weight="bold" text-anchor="start" >2</text>
<text x="331.80" y="238.00" font-size="4.20" fill="#333" font-weight="bold" text-anchor="start" >3</text>
<text x="331.80" y="223.70" font-size="4.20" fill="#333" font-weight="bold" text-anchor="start" >4</text>
<text x="331.80" y="209.40" font-size="4.20" fill="#333" font-weight="bold" text-anchor="start" >5</text>
<text x="331.80" y="195.10" font-size="4.20" fill="#333" font-weight="bold" text-anchor="start" >6</text>
<text x="331.80" y="180.80" font-size="4.20" fill="#333" font-weight="bold" text-anchor="start" >7</text>
<text x="331.80" y="166.50" font-size="4.20" fill="#333" font-weight="bold" text-anchor="start" >8</text>
<text x="331.60" y="163.80" font-size="3.40" fill="#444" font-weight="normal" text-anchor="start" >×10<tspan font-size="70%%" dy="-0.4em">15</tspan></text>
<text x="200.00" y="42.60" font-size="4.30" fill="#333" font-weight="bold" text-anchor="end" textLength="10.40" lengthAdjust="spacingAndGlyphs" >-1300</text>
<text x="200.00" y="58.00" font-size="4.30" fill="#333" font-weight="bold" text-anchor="end" textLength="10.40" lengthAdjust="spacingAndGlyphs" >-1400</text>
<text x="200.00" y="73.40" font-size="4.30" fill="#333" font-weight="bold" text-anchor="end" textLength="10.40" lengthAdjust="spacingAndGlyphs" >-1500</text>
<text x="200.00" y="88.70" font-size="4.30" fill="#333" font-weight="bold" text-anchor="end" textLength="10.40" lengthAdjust="spacingAndGlyphs" >-1600</text>
<text x="200.00" y="103.90" font-size="4.30" fill="#333" font-weight="bold" text-anchor="end" textLength="10.40" lengthAdjust="spacingAndGlyphs" >-1700</text>
<text x="200.00" y="119.10" font-size="4.30" fill="#333" font-weight="bold" text-anchor="end" textLength="10.40" lengthAdjust="spacingAndGlyphs" >-1800</text>
<text x="200.00" y="134.50" font-size="4.30" fill="#333" font-weight="bold" text-anchor="end" textLength="10.40" lengthAdjust="spacingAndGlyphs" >-1900</text>
<text x="200.00" y="182.40" font-size="4.30" fill="#333" font-weight="bold" text-anchor="end" textLength="10.40" lengthAdjust="spacingAndGlyphs" >-1400</text>
<text x="200.00" y="197.60" font-size="4.30" fill="#333" font-weight="bold" text-anchor="end" textLength="10.40" lengthAdjust="spacingAndGlyphs" >-1500</text>
<text x="200.00" y="212.60" font-size="4.30" fill="#333" font-weight="bold" text-anchor="end" textLength="10.40" lengthAdjust="spacingAndGlyphs" >-1600</text>
<text x="200.00" y="227.80" font-size="4.30" fill="#333" font-weight="bold" text-anchor="end" textLength="10.40" lengthAdjust="spacingAndGlyphs" >-1700</text>
<text x="200.00" y="243.20" font-size="4.30" fill="#333" font-weight="bold" text-anchor="end" textLength="10.40" lengthAdjust="spacingAndGlyphs" >-1800</text>
<text x="200.00" y="258.60" font-size="4.30" fill="#333" font-weight="bold" text-anchor="end" textLength="10.40" lengthAdjust="spacingAndGlyphs" >-1900</text>
<text x="200.00" y="273.80" font-size="4.30" fill="#333" font-weight="bold" text-anchor="end" textLength="10.40" lengthAdjust="spacingAndGlyphs" >-2000</text>
<text x="205.60" y="151.40" font-size="4.80" fill="#333" font-weight="bold" text-anchor="middle" >-800</text>
<text x="205.60" y="286.50" font-size="4.80" fill="#333" font-weight="bold" text-anchor="middle" >-800</text>
<text x="219.96" y="151.40" font-size="4.80" fill="#333" font-weight="bold" text-anchor="middle" >-600</text>
<text x="219.96" y="286.50" font-size="4.80" fill="#333" font-weight="bold" text-anchor="middle" >-600</text>
<text x="234.32" y="151.40" font-size="4.80" fill="#333" font-weight="bold" text-anchor="middle" >-400</text>
<text x="234.32" y="286.50" font-size="4.80" fill="#333" font-weight="bold" text-anchor="middle" >-400</text>
<text x="248.68" y="151.40" font-size="4.80" fill="#333" font-weight="bold" text-anchor="middle" >-200</text>
<text x="248.68" y="286.50" font-size="4.80" fill="#333" font-weight="bold" text-anchor="middle" >-200</text>
<text x="263.04" y="151.40" font-size="4.80" fill="#333" font-weight="bold" text-anchor="middle" >0</text>
<text x="263.04" y="286.50" font-size="4.80" fill="#333" font-weight="bold" text-anchor="middle" >0</text>
<text x="277.40" y="151.40" font-size="4.80" fill="#333" font-weight="bold" text-anchor="middle" >200</text>
<text x="277.40" y="286.50" font-size="4.80" fill="#333" font-weight="bold" text-anchor="middle" >200</text>
<text x="291.76" y="151.40" font-size="4.80" fill="#333" font-weight="bold" text-anchor="middle" >400</text>
<text x="291.76" y="286.50" font-size="4.80" fill="#333" font-weight="bold" text-anchor="middle" >400</text>
<text x="306.12" y="151.40" font-size="4.80" fill="#333" font-weight="bold" text-anchor="middle" >600</text>
<text x="306.12" y="286.50" font-size="4.80" fill="#333" font-weight="bold" text-anchor="middle" >600</text>
<text x="320.48" y="151.40" font-size="4.80" fill="#333" font-weight="bold" text-anchor="middle" >800</text>
<text x="320.48" y="286.50" font-size="4.80" fill="#333" font-weight="bold" text-anchor="middle" >800</text>
<text x="263.20" y="157.00" font-size="5.20" fill="#222" font-weight="bold" text-anchor="middle" >x (nm)</text>
<text x="263.20" y="292.40" font-size="5.20" fill="#222" font-weight="bold" text-anchor="middle" >x (nm)</text>
<text transform="translate(186.9,87.1) rotate(-90)" font-size="5.2" font-weight="bold" fill="#222" text-anchor="middle" textLength="17" lengthAdjust="spacingAndGlyphs">y (nm)</text>
<text transform="translate(186.9,223.1) rotate(-90)" font-size="5.2" font-weight="bold" fill="#222" text-anchor="middle" textLength="17" lengthAdjust="spacingAndGlyphs">y (nm)</text>
<text x="205.20" y="52.20" font-size="10.60" fill="#fff" font-weight="bold" text-anchor="start" textLength="38.80" lengthAdjust="spacingAndGlyphs" >CsPbIBr<tspan font-size="65%" dy="0.38em">2</tspan></text>
<text x="260.50" y="40.70" font-size="8.90" fill="#fff" font-weight="bold" text-anchor="start" textLength="56.20" lengthAdjust="spacingAndGlyphs" >(λ = 380 nm)</text>
<text x="204.20" y="105.20" font-size="10.60" fill="#fff" font-weight="bold" text-anchor="start" textLength="39.80" lengthAdjust="spacingAndGlyphs" >mP-TiO<tspan font-size="65%" dy="0.38em">2</tspan></text>
<text x="203.20" y="142.20" font-size="11.20" fill="#fff" font-weight="bold" text-anchor="start" textLength="18.70" lengthAdjust="spacingAndGlyphs" >FTO</text>
<text x="294.50" y="115.80" font-size="10.40" fill="#fff" font-weight="bold" text-anchor="start" textLength="28.20" lengthAdjust="spacingAndGlyphs" >c-TiO<tspan font-size="65%" dy="0.38em">2</tspan></text>
<line x1="285.1" y1="128.3" x2="294.2" y2="119.2" stroke="#fff" stroke-width="1.3" marker-end="url(#ah)"/>
<text x="205.80" y="177.50" font-size="10.60" fill="#fff" font-weight="bold" text-anchor="start" textLength="38.60" lengthAdjust="spacingAndGlyphs" >CsPbIBr<tspan font-size="65%" dy="0.38em">2</tspan></text>
<text x="204.20" y="233.80" font-size="10.60" fill="#fff" font-weight="bold" text-anchor="start" textLength="40.40" lengthAdjust="spacingAndGlyphs" >mP-TiO<tspan font-size="65%" dy="0.38em">2</tspan></text>
<text x="204.20" y="273.20" font-size="11.20" fill="#fff" font-weight="bold" text-anchor="start" textLength="19.10" lengthAdjust="spacingAndGlyphs" >FTO</text>
<text x="295.80" y="238.70" font-size="10.40" fill="#fff" font-weight="bold" text-anchor="start" textLength="27.50" lengthAdjust="spacingAndGlyphs" >c-TiO<tspan font-size="65%" dy="0.38em">2</tspan></text>
<line x1="286.1" y1="251.8" x2="294.8" y2="243.2" stroke="#fff" stroke-width="1.3" marker-end="url(#ah)"/>
<text transform="translate(349.3,254.5) rotate(-90)" font-size="10.6" font-weight="bold" fill="#000" word-spacing="2.2" textLength="185.5" lengthAdjust="spacingAndGlyphs">Power absorbed per unit volume (W/m<tspan font-size="65%" dy="-0.5em">3</tspan><tspan dy="0.325em">)</tspan></text>
<text x="461.60" y="12.70" font-size="13.50" fill="#000" font-weight="bold" text-anchor="middle" textLength="129.60" lengthAdjust="spacingAndGlyphs" >Device performance</text>
<rect x="391.00" y="28.00" width="149.00" height="110.00" fill="#fff" stroke="#1c1c1c" stroke-width="0.6"/>
<line x1="391.00" y1="138.00" x2="393.20" y2="138.00" stroke="#1c1c1c" stroke-width="0.6"/>
<text x="388.40" y="140.70" font-size="7.60" fill="#111" font-weight="bold" text-anchor="end" >0</text>
<line x1="391.00" y1="127.00" x2="392.30" y2="127.00" stroke="#1c1c1c" stroke-width="0.6"/>
<line x1="391.00" y1="116.00" x2="393.20" y2="116.00" stroke="#1c1c1c" stroke-width="0.6"/>
<text x="388.40" y="118.70" font-size="7.60" fill="#111" font-weight="bold" text-anchor="end" >2</text>
<line x1="391.00" y1="105.00" x2="392.30" y2="105.00" stroke="#1c1c1c" stroke-width="0.6"/>
<line x1="391.00" y1="94.00" x2="393.20" y2="94.00" stroke="#1c1c1c" stroke-width="0.6"/>
<text x="388.40" y="96.70" font-size="7.60" fill="#111" font-weight="bold" text-anchor="end" >4</text>
<line x1="391.00" y1="83.00" x2="392.30" y2="83.00" stroke="#1c1c1c" stroke-width="0.6"/>
<line x1="391.00" y1="72.00" x2="393.20" y2="72.00" stroke="#1c1c1c" stroke-width="0.6"/>
<text x="388.40" y="74.70" font-size="7.60" fill="#111" font-weight="bold" text-anchor="end" >6</text>
<line x1="391.00" y1="61.00" x2="392.30" y2="61.00" stroke="#1c1c1c" stroke-width="0.6"/>
<line x1="391.00" y1="50.00" x2="393.20" y2="50.00" stroke="#1c1c1c" stroke-width="0.6"/>
<text x="388.40" y="52.70" font-size="7.60" fill="#111" font-weight="bold" text-anchor="end" >8</text>
<line x1="391.00" y1="39.00" x2="392.30" y2="39.00" stroke="#1c1c1c" stroke-width="0.6"/>
<line x1="391.00" y1="28.00" x2="393.20" y2="28.00" stroke="#1c1c1c" stroke-width="0.6"/>
<text x="388.40" y="30.70" font-size="7.60" fill="#111" font-weight="bold" text-anchor="end" >10</text>
<line x1="391.00" y1="138.00" x2="391.00" y2="135.80" stroke="#1c1c1c" stroke-width="0.6"/>
<text x="391.00" y="146.10" font-size="7.60" fill="#111" font-weight="bold" text-anchor="middle" >0.0</text>
<line x1="405.90" y1="138.00" x2="405.90" y2="136.70" stroke="#1c1c1c" stroke-width="0.6"/>
<line x1="420.80" y1="138.00" x2="420.80" y2="135.80" stroke="#1c1c1c" stroke-width="0.6"/>
<text x="420.80" y="146.10" font-size="7.60" fill="#111" font-weight="bold" text-anchor="middle" >0.2</text>
<line x1="435.70" y1="138.00" x2="435.70" y2="136.70" stroke="#1c1c1c" stroke-width="0.6"/>
<line x1="450.60" y1="138.00" x2="450.60" y2="135.80" stroke="#1c1c1c" stroke-width="0.6"/>
<text x="450.60" y="146.10" font-size="7.60" fill="#111" font-weight="bold" text-anchor="middle" >0.4</text>
<line x1="465.50" y1="138.00" x2="465.50" y2="136.70" stroke="#1c1c1c" stroke-width="0.6"/>
<line x1="480.40" y1="138.00" x2="480.40" y2="135.80" stroke="#1c1c1c" stroke-width="0.6"/>
<text x="480.40" y="146.10" font-size="7.60" fill="#111" font-weight="bold" text-anchor="middle" >0.6</text>
<line x1="495.30" y1="138.00" x2="495.30" y2="136.70" stroke="#1c1c1c" stroke-width="0.6"/>
<line x1="510.20" y1="138.00" x2="510.20" y2="135.80" stroke="#1c1c1c" stroke-width="0.6"/>
<text x="510.20" y="146.10" font-size="7.60" fill="#111" font-weight="bold" text-anchor="middle" >0.8</text>
<line x1="525.10" y1="138.00" x2="525.10" y2="136.70" stroke="#1c1c1c" stroke-width="0.6"/>
<line x1="540.00" y1="138.00" x2="540.00" y2="135.80" stroke="#1c1c1c" stroke-width="0.6"/>
<text x="540.00" y="146.10" font-size="7.60" fill="#111" font-weight="bold" text-anchor="middle" >1.0</text>
<text x="465.30" y="155.40" font-size="8.00" fill="#111" font-weight="bold" text-anchor="middle" textLength="44.00" lengthAdjust="spacingAndGlyphs" >Voltage (V)</text>
<text transform="translate(376.6,82.3) rotate(-90)" font-size="7.8" font-weight="bold" fill="#111" text-anchor="middle" textLength="95" lengthAdjust="spacingAndGlyphs">Current Density (mA/cm<tspan font-size="65%" dy="-0.5em">2</tspan><tspan dy="0.325em">)</tspan></text>
<g fill="#fff" stroke-width="0.55">
<g stroke="#1a1a1a">
<rect x="389.55" y="47.45" width="2.9" height="2.9"/>
<rect x="391.04" y="47.56" width="2.9" height="2.9"/>
<rect x="392.53" y="47.68" width="2.9" height="2.9"/>
<rect x="394.02" y="47.82" width="2.9" height="2.9"/>
<rect x="395.51" y="47.97" width="2.9" height="2.9"/>
<rect x="397.00" y="48.13" width="2.9" height="2.9"/>
<rect x="398.49" y="48.30" width="2.9" height="2.9"/>
<rect x="399.98" y="48.48" width="2.9" height="2.9"/>
<rect x="401.47" y="48.67" width="2.9" height="2.9"/>
<rect x="402.96" y="48.87" width="2.9" height="2.9"/>
<rect x="404.45" y="49.09" width="2.9" height="2.9"/>
<rect x="405.94" y="49.30" width="2.9" height="2.9"/>
<rect x="407.43" y="49.53" width="2.9" height="2.9"/>
<rect x="408.92" y="49.76" width="2.9" height="2.9"/>
<rect x="410.41" y="50.00" width="2.9" height="2.9"/>
<rect x="411.90" y="50.25" width="2.9" height="2.9"/>
<rect x="413.39" y="50.50" width="2.9" height="2.9"/>
<rect x="414.88" y="50.76" width="2.9" height="2.9"/>
<rect x="416.37" y="51.04" width="2.9" height="2.9"/>
<rect x="417.86" y="51.34" width="2.9" height="2.9"/>
<rect x="419.35" y="51.66" width="2.9" height="2.9"/>
<rect x="420.84" y="51.99" width="2.9" height="2.9"/>
<rect x="422.33" y="52.33" width="2.9" height="2.9"/>
<rect x="423.82" y="52.69" width="2.9" height="2.9"/>
<rect x="425.31" y="53.06" width="2.9" height="2.9"/>
<rect x="426.80" y="53.45" width="2.9" height="2.9"/>
<rect x="428.29" y="53.84" width="2.9" height="2.9"/>
<rect x="429.78" y="54.25" width="2.9" height="2.9"/>
<rect x="431.27" y="54.67" width="2.9" height="2.9"/>
<rect x="432.76" y="55.09" width="2.9" height="2.9"/>
<rect x="434.25" y="55.53" width="2.9" height="2.9"/>
<rect x="435.74" y="55.97" width="2.9" height="2.9"/>
<rect x="437.23" y="56.43" width="2.9" height="2.9"/>
<rect x="438.72" y="56.88" width="2.9" height="2.9"/>
<rect x="440.21" y="57.35" width="2.9" height="2.9"/>
<rect x="441.70" y="57.82" width="2.9" height="2.9"/>
<rect x="443.19" y="58.30" width="2.9" height="2.9"/>
<rect x="444.68" y="58.79" width="2.9" height="2.9"/>
<rect x="446.17" y="59.30" width="2.9" height="2.9"/>
<rect x="447.66" y="59.83" width="2.9" height="2.9"/>
<rect x="449.15" y="60.37" width="2.9" height="2.9"/>
<rect x="450.64" y="60.92" width="2.9" height="2.9"/>
<rect x="452.13" y="61.49" width="2.9" height="2.9"/>
<rect x="453.62" y="62.08" width="2.9" height="2.9"/>
<rect x="455.11" y="62.68" width="2.9" height="2.9"/>
<rect x="456.60" y="63.29" width="2.9" height="2.9"/>
<rect x="458.09" y="63.92" width="2.9" height="2.9"/>
<rect x="459.58" y="64.56" width="2.9" height="2.9"/>
<rect x="461.07" y="65.22" width="2.9" height="2.9"/>
<rect x="462.56" y="65.89" width="2.9" height="2.9"/>
<rect x="464.05" y="66.57" width="2.9" height="2.9"/>
<rect x="465.54" y="67.26" width="2.9" height="2.9"/>
<rect x="467.03" y="67.96" width="2.9" height="2.9"/>
<rect x="468.52" y="68.68" width="2.9" height="2.9"/>
<rect x="470.01" y="69.41" width="2.9" height="2.9"/>
<rect x="471.50" y="70.15" width="2.9" height="2.9"/>
<rect x="472.99" y="70.90" width="2.9" height="2.9"/>
<rect x="474.48" y="71.69" width="2.9" height="2.9"/>
<rect x="475.97" y="72.50" width="2.9" height="2.9"/>
<rect x="477.46" y="73.35" width="2.9" height="2.9"/>
<rect x="478.95" y="74.22" width="2.9" height="2.9"/>
<rect x="480.44" y="75.12" width="2.9" height="2.9"/>
<rect x="481.93" y="76.05" width="2.9" height="2.9"/>
<rect x="483.42" y="77.01" width="2.9" height="2.9"/>
<rect x="484.91" y="78.00" width="2.9" height="2.9"/>
<rect x="486.40" y="79.02" width="2.9" height="2.9"/>
<rect x="487.89" y="80.07" width="2.9" height="2.9"/>
<rect x="489.38" y="81.16" width="2.9" height="2.9"/>
<rect x="490.87" y="82.29" width="2.9" height="2.9"/>
<rect x="492.36" y="83.46" width="2.9" height="2.9"/>
<rect x="493.85" y="84.67" width="2.9" height="2.9"/>
<rect x="495.34" y="85.92" width="2.9" height="2.9"/>
<rect x="496.83" y="87.21" width="2.9" height="2.9"/>
<rect x="498.32" y="88.55" width="2.9" height="2.9"/>
<rect x="499.81" y="89.94" width="2.9" height="2.9"/>
<rect x="501.30" y="91.38" width="2.9" height="2.9"/>
<rect x="502.79" y="92.89" width="2.9" height="2.9"/>
<rect x="504.28" y="94.50" width="2.9" height="2.9"/>
<rect x="505.77" y="96.19" width="2.9" height="2.9"/>
<rect x="507.26" y="97.95" width="2.9" height="2.9"/>
<rect x="508.75" y="99.76" width="2.9" height="2.9"/>
<rect x="510.24" y="101.61" width="2.9" height="2.9"/>
<rect x="511.73" y="103.48" width="2.9" height="2.9"/>
<rect x="513.22" y="105.36" width="2.9" height="2.9"/>
<rect x="514.71" y="107.25" width="2.9" height="2.9"/>
<rect x="516.20" y="109.23" width="2.9" height="2.9"/>
<rect x="517.69" y="111.25" width="2.9" height="2.9"/>
<rect x="519.18" y="113.25" width="2.9" height="2.9"/>
<rect x="520.67" y="115.18" width="2.9" height="2.9"/>
<rect x="522.16" y="117.04" width="2.9" height="2.9"/>
<rect x="523.65" y="118.94" width="2.9" height="2.9"/>
<rect x="525.14" y="120.95" width="2.9" height="2.9"/>
<rect x="526.63" y="123.15" width="2.9" height="2.9"/>
<rect x="528.12" y="125.47" width="2.9" height="2.9"/>
<rect x="529.61" y="127.91" width="2.9" height="2.9"/>
<rect x="531.10" y="130.48" width="2.9" height="2.9"/>
<rect x="532.59" y="133.17" width="2.9" height="2.9"/>
<rect x="534.08" y="135.97" width="2.9" height="2.9"/>
</g><g stroke="#d0312d">
<circle cx="391.00" cy="40.10" r="1.8"/>
<circle cx="392.49" cy="40.20" r="1.8"/>
<circle cx="393.98" cy="40.30" r="1.8"/>
<circle cx="395.47" cy="40.42" r="1.8"/>
<circle cx="396.96" cy="40.54" r="1.8"/>
<circle cx="398.45" cy="40.67" r="1.8"/>
<circle cx="399.94" cy="40.82" r="1.8"/>
<circle cx="401.43" cy="40.96" r="1.8"/>
<circle cx="402.92" cy="41.12" r="1.8"/>
<circle cx="404.41" cy="41.28" r="1.8"/>
<circle cx="405.90" cy="41.45" r="1.8"/>
<circle cx="407.39" cy="41.63" r="1.8"/>
<circle cx="408.88" cy="41.81" r="1.8"/>
<circle cx="410.37" cy="41.99" r="1.8"/>
<circle cx="411.86" cy="42.19" r="1.8"/>
<circle cx="413.35" cy="42.38" r="1.8"/>
<circle cx="414.84" cy="42.58" r="1.8"/>
<circle cx="416.33" cy="42.79" r="1.8"/>
<circle cx="417.82" cy="43.01" r="1.8"/>
<circle cx="419.31" cy="43.24" r="1.8"/>
<circle cx="420.80" cy="43.48" r="1.8"/>
<circle cx="422.29" cy="43.73" r="1.8"/>
<circle cx="423.78" cy="43.99" r="1.8"/>
<circle cx="425.27" cy="44.27" r="1.8"/>
<circle cx="426.76" cy="44.55" r="1.8"/>
<circle cx="428.25" cy="44.84" r="1.8"/>
<circle cx="429.74" cy="45.14" r="1.8"/>
<circle cx="431.23" cy="45.44" r="1.8"/>
<circle cx="432.72" cy="45.76" r="1.8"/>
<circle cx="434.21" cy="46.09" r="1.8"/>
<circle cx="435.70" cy="46.42" r="1.8"/>
<circle cx="437.19" cy="46.76" r="1.8"/>
<circle cx="438.68" cy="47.11" r="1.8"/>
<circle cx="440.17" cy="47.47" r="1.8"/>
<circle cx="441.66" cy="47.83" r="1.8"/>
<circle cx="443.15" cy="48.20" r="1.8"/>
<circle cx="444.64" cy="48.58" r="1.8"/>
<circle cx="446.13" cy="48.97" r="1.8"/>
<circle cx="447.62" cy="49.38" r="1.8"/>
<circle cx="449.11" cy="49.81" r="1.8"/>
<circle cx="450.60" cy="50.25" r="1.8"/>
<circle cx="452.09" cy="50.71" r="1.8"/>
<circle cx="453.58" cy="51.18" r="1.8"/>
<circle cx="455.07" cy="51.66" r="1.8"/>
<circle cx="456.56" cy="52.16" r="1.8"/>
<circle cx="458.05" cy="52.67" r="1.8"/>
<circle cx="459.54" cy="53.20" r="1.8"/>
<circle cx="461.03" cy="53.74" r="1.8"/>
<circle cx="462.52" cy="54.30" r="1.8"/>
<circle cx="464.01" cy="54.86" r="1.8"/>
<circle cx="465.50" cy="55.44" r="1.8"/>
<circle cx="466.99" cy="56.03" r="1.8"/>
<circle cx="468.48" cy="56.64" r="1.8"/>
<circle cx="469.97" cy="57.25" r="1.8"/>
<circle cx="471.46" cy="57.88" r="1.8"/>
<circle cx="472.95" cy="58.52" r="1.8"/>
<circle cx="474.44" cy="59.18" r="1.8"/>
<circle cx="475.93" cy="59.88" r="1.8"/>
<circle cx="477.42" cy="60.61" r="1.8"/>
<circle cx="478.91" cy="61.38" r="1.8"/>
<circle cx="480.40" cy="62.17" r="1.8"/>
<circle cx="481.89" cy="62.99" r="1.8"/>
<circle cx="483.38" cy="63.84" r="1.8"/>
<circle cx="484.87" cy="64.71" r="1.8"/>
<circle cx="486.36" cy="65.60" r="1.8"/>
<circle cx="487.85" cy="66.50" r="1.8"/>
<circle cx="489.34" cy="67.42" r="1.8"/>
<circle cx="490.83" cy="68.35" r="1.8"/>
<circle cx="492.32" cy="69.31" r="1.8"/>
<circle cx="493.81" cy="70.30" r="1.8"/>
<circle cx="495.30" cy="71.32" r="1.8"/>
<circle cx="496.79" cy="72.37" r="1.8"/>
<circle cx="498.28" cy="73.47" r="1.8"/>
<circle cx="499.77" cy="74.62" r="1.8"/>
<circle cx="501.26" cy="75.82" r="1.8"/>
<circle cx="502.75" cy="77.08" r="1.8"/>
<circle cx="504.24" cy="78.39" r="1.8"/>
<circle cx="505.73" cy="79.75" r="1.8"/>
<circle cx="507.22" cy="81.17" r="1.8"/>
<circle cx="508.71" cy="82.66" r="1.8"/>
<circle cx="510.20" cy="84.23" r="1.8"/>
<circle cx="511.69" cy="85.89" r="1.8"/>
<circle cx="513.18" cy="87.64" r="1.8"/>
<circle cx="514.67" cy="89.49" r="1.8"/>
<circle cx="516.16" cy="91.45" r="1.8"/>
<circle cx="517.65" cy="93.56" r="1.8"/>
<circle cx="519.14" cy="96.03" r="1.8"/>
<circle cx="520.63" cy="98.82" r="1.8"/>
<circle cx="522.12" cy="101.76" r="1.8"/>
<circle cx="523.61" cy="104.70" r="1.8"/>
<circle cx="525.10" cy="107.50" r="1.8"/>
<circle cx="526.59" cy="110.34" r="1.8"/>
<circle cx="528.08" cy="113.43" r="1.8"/>
<circle cx="529.57" cy="116.85" r="1.8"/>
<circle cx="531.06" cy="120.42" r="1.8"/>
<circle cx="532.55" cy="123.96" r="1.8"/>
<circle cx="534.04" cy="127.37" r="1.8"/>
<circle cx="535.53" cy="130.78" r="1.8"/>
<circle cx="537.02" cy="134.28" r="1.8"/>
<circle cx="538.51" cy="138.00" r="1.8"/>
</g></g>
<line x1="460.00" y1="34.50" x2="475.20" y2="34.50" stroke="#1a1a1a" stroke-width="0.8"/>
<line x1="460.00" y1="44.80" x2="475.20" y2="44.80" stroke="#c0201c" stroke-width="0.8"/>
<rect x="466.30" y="33.20" width="2.6" height="2.6" fill="#fff" stroke="#1a1a1a" stroke-width="0.6"/>
<circle cx="467.60" cy="44.80" r="1.4" fill="#fff" stroke="#c0201c" stroke-width="0.6"/>
<text x="477.80" y="36.80" font-size="6.60" fill="#111" font-weight="bold" text-anchor="start" textLength="45.00" lengthAdjust="spacingAndGlyphs" >Flat mp-TiO<tspan font-size="75%" dy="0.24em">2</tspan></text>
<text x="477.80" y="47.10" font-size="6.60" fill="#111" font-weight="bold" text-anchor="start" textLength="59.20" lengthAdjust="spacingAndGlyphs" >1D GNP mp-TiO<tspan font-size="75%" dy="0.24em">2</tspan></text>
<rect x="391.00" y="163.50" width="149.60" height="114.00" fill="#fff" stroke="#1c1c1c" stroke-width="0.6"/>
<line x1="391.00" y1="277.50" x2="393.20" y2="277.50" stroke="#1c1c1c" stroke-width="0.6"/>
<text x="388.40" y="280.00" font-size="7.00" fill="#111" font-weight="bold" text-anchor="end" >0</text>
<line x1="391.00" y1="266.10" x2="392.30" y2="266.10" stroke="#1c1c1c" stroke-width="0.6"/>
<line x1="391.00" y1="254.70" x2="393.20" y2="254.70" stroke="#1c1c1c" stroke-width="0.6"/>
<text x="388.40" y="257.20" font-size="7.00" fill="#111" font-weight="bold" text-anchor="end" >20</text>
<line x1="391.00" y1="243.30" x2="392.30" y2="243.30" stroke="#1c1c1c" stroke-width="0.6"/>
<line x1="391.00" y1="231.90" x2="393.20" y2="231.90" stroke="#1c1c1c" stroke-width="0.6"/>
<text x="388.40" y="234.40" font-size="7.00" fill="#111" font-weight="bold" text-anchor="end" >40</text>
<line x1="391.00" y1="220.50" x2="392.30" y2="220.50" stroke="#1c1c1c" stroke-width="0.6"/>
<line x1="391.00" y1="209.10" x2="393.20" y2="209.10" stroke="#1c1c1c" stroke-width="0.6"/>
<text x="388.40" y="211.60" font-size="7.00" fill="#111" font-weight="bold" text-anchor="end" >60</text>
<line x1="391.00" y1="197.70" x2="392.30" y2="197.70" stroke="#1c1c1c" stroke-width="0.6"/>
<line x1="391.00" y1="186.30" x2="393.20" y2="186.30" stroke="#1c1c1c" stroke-width="0.6"/>
<text x="388.40" y="188.80" font-size="7.00" fill="#111" font-weight="bold" text-anchor="end" >80</text>
<line x1="391.00" y1="174.90" x2="392.30" y2="174.90" stroke="#1c1c1c" stroke-width="0.6"/>
<line x1="391.00" y1="163.50" x2="393.20" y2="163.50" stroke="#1c1c1c" stroke-width="0.6"/>
<text x="388.40" y="166.00" font-size="7.00" fill="#111" font-weight="bold" text-anchor="end" >100</text>
<line x1="391.00" y1="277.50" x2="391.00" y2="275.30" stroke="#1c1c1c" stroke-width="0.6"/>
<text x="391.00" y="285.40" font-size="7.00" fill="#111" font-weight="bold" text-anchor="middle" >300</text>
<line x1="401.69" y1="277.50" x2="401.69" y2="276.20" stroke="#1c1c1c" stroke-width="0.6"/>
<line x1="412.37" y1="277.50" x2="412.37" y2="275.30" stroke="#1c1c1c" stroke-width="0.6"/>
<text x="412.37" y="285.40" font-size="7.00" fill="#111" font-weight="bold" text-anchor="middle" >350</text>
<line x1="423.06" y1="277.50" x2="423.06" y2="276.20" stroke="#1c1c1c" stroke-width="0.6"/>
<line x1="433.74" y1="277.50" x2="433.74" y2="275.30" stroke="#1c1c1c" stroke-width="0.6"/>
<text x="433.74" y="285.40" font-size="7.00" fill="#111" font-weight="bold" text-anchor="middle" >400</text>
<line x1="444.43" y1="277.50" x2="444.43" y2="276.20" stroke="#1c1c1c" stroke-width="0.6"/>
<line x1="455.11" y1="277.50" x2="455.11" y2="275.30" stroke="#1c1c1c" stroke-width="0.6"/>
<text x="455.11" y="285.40" font-size="7.00" fill="#111" font-weight="bold" text-anchor="middle" >450</text>
<line x1="465.80" y1="277.50" x2="465.80" y2="276.20" stroke="#1c1c1c" stroke-width="0.6"/>
<line x1="476.49" y1="277.50" x2="476.49" y2="275.30" stroke="#1c1c1c" stroke-width="0.6"/>
<text x="476.49" y="285.40" font-size="7.00" fill="#111" font-weight="bold" text-anchor="middle" >500</text>
<line x1="487.17" y1="277.50" x2="487.17" y2="276.20" stroke="#1c1c1c" stroke-width="0.6"/>
<line x1="497.86" y1="277.50" x2="497.86" y2="275.30" stroke="#1c1c1c" stroke-width="0.6"/>
<text x="497.86" y="285.40" font-size="7.00" fill="#111" font-weight="bold" text-anchor="middle" >550</text>
<line x1="508.54" y1="277.50" x2="508.54" y2="276.20" stroke="#1c1c1c" stroke-width="0.6"/>
<line x1="519.23" y1="277.50" x2="519.23" y2="275.30" stroke="#1c1c1c" stroke-width="0.6"/>
<text x="519.23" y="285.40" font-size="7.00" fill="#111" font-weight="bold" text-anchor="middle" >600</text>
<line x1="529.91" y1="277.50" x2="529.91" y2="276.20" stroke="#1c1c1c" stroke-width="0.6"/>
<line x1="540.60" y1="277.50" x2="540.60" y2="275.30" stroke="#1c1c1c" stroke-width="0.6"/>
<text x="540.60" y="285.40" font-size="7.00" fill="#111" font-weight="bold" text-anchor="middle" >650</text>
<text x="466.40" y="293.20" font-size="7.60" fill="#111" font-weight="bold" text-anchor="middle" textLength="61.00" lengthAdjust="spacingAndGlyphs" >Wavelength (nm)</text>
<text transform="translate(376.4,222.3) rotate(-90)" font-size="7.6" font-weight="bold" fill="#111" text-anchor="middle" textLength="29.5" lengthAdjust="spacingAndGlyphs">EQE (%)</text>
<polyline points="391.00,276.93 395.27,274.08 399.55,267.24 403.82,250.71 408.10,230.76 412.37,220.50 416.65,212.52 420.92,208.53 425.19,207.16 429.47,206.48 433.74,205.68 438.02,205.00 442.29,204.65 446.57,205.22 450.84,205.91 455.11,206.82 459.39,207.96 463.66,209.67 467.94,211.15 472.21,212.52 476.49,213.89 480.76,215.03 485.03,215.94 489.31,216.62 493.58,217.19 497.86,217.54 502.13,217.08 506.41,217.88 510.68,241.02 514.95,263.82 519.23,271.80 523.50,274.76 527.78,276.13 532.05,276.82 536.33,277.16 540.60,277.27" fill="none" stroke="#1a1a1a" stroke-width="1.15" stroke-linejoin="round"/>
<polyline points="391.00,276.93 395.27,273.51 399.55,266.67 403.82,249.00 408.10,225.06 412.37,212.52 416.65,205.11 420.92,201.12 425.19,199.41 429.47,198.50 433.74,197.70 438.02,197.13 442.29,196.79 446.57,197.36 450.84,198.04 455.11,198.84 459.39,199.98 463.66,201.12 467.94,202.26 472.21,203.63 476.49,205.11 480.76,206.48 485.03,207.62 489.31,208.53 493.58,209.33 497.86,209.67 502.13,209.10 506.41,210.47 510.68,235.32 514.95,262.68 519.23,271.23 523.50,274.54 527.78,276.02 532.05,276.70 536.33,277.04 540.60,277.27" fill="none" stroke="#ab2222" stroke-width="1.15" stroke-linejoin="round"/>
<g fill="#fff" stroke="#1a1a1a" stroke-width="0.55">
<circle cx="391.00" cy="276.93" r="1.35"/>
<circle cx="395.27" cy="274.08" r="1.35"/>
<circle cx="399.55" cy="267.24" r="1.35"/>
<circle cx="403.82" cy="250.71" r="1.35"/>
<circle cx="408.10" cy="230.76" r="1.35"/>
<circle cx="412.37" cy="220.50" r="1.35"/>
<circle cx="416.65" cy="212.52" r="1.35"/>
<circle cx="420.92" cy="208.53" r="1.35"/>
<circle cx="425.19" cy="207.16" r="1.35"/>
<circle cx="429.47" cy="206.48" r="1.35"/>
<circle cx="433.74" cy="205.68" r="1.35"/>
<circle cx="438.02" cy="205.00" r="1.35"/>
<circle cx="442.29" cy="204.65" r="1.35"/>
<circle cx="446.57" cy="205.22" r="1.35"/>
<circle cx="450.84" cy="205.91" r="1.35"/>
<circle cx="455.11" cy="206.82" r="1.35"/>
<circle cx="459.39" cy="207.96" r="1.35"/>
<circle cx="463.66" cy="209.67" r="1.35"/>
<circle cx="467.94" cy="211.15" r="1.35"/>
<circle cx="472.21" cy="212.52" r="1.35"/>
<circle cx="476.49" cy="213.89" r="1.35"/>
<circle cx="480.76" cy="215.03" r="1.35"/>
<circle cx="485.03" cy="215.94" r="1.35"/>
<circle cx="489.31" cy="216.62" r="1.35"/>
<circle cx="493.58" cy="217.19" r="1.35"/>
<circle cx="497.86" cy="217.54" r="1.35"/>
<circle cx="502.13" cy="217.08" r="1.35"/>
<circle cx="506.41" cy="217.88" r="1.35"/>
<circle cx="510.68" cy="241.02" r="1.35"/>
<circle cx="514.95" cy="263.82" r="1.35"/>
<circle cx="519.23" cy="271.80" r="1.35"/>
<circle cx="523.50" cy="274.76" r="1.35"/>
<circle cx="527.78" cy="276.13" r="1.35"/>
<circle cx="532.05" cy="276.82" r="1.35"/>
<circle cx="536.33" cy="277.16" r="1.35"/>
<circle cx="540.60" cy="277.27" r="1.35"/>
</g>
<g fill="#fff" stroke="#ab2222" stroke-width="0.55">
<circle cx="391.00" cy="276.93" r="1.35"/>
<circle cx="395.27" cy="273.51" r="1.35"/>
<circle cx="399.55" cy="266.67" r="1.35"/>
<circle cx="403.82" cy="249.00" r="1.35"/>
<circle cx="408.10" cy="225.06" r="1.35"/>
<circle cx="412.37" cy="212.52" r="1.35"/>
<circle cx="416.65" cy="205.11" r="1.35"/>
<circle cx="420.92" cy="201.12" r="1.35"/>
<circle cx="425.19" cy="199.41" r="1.35"/>
<circle cx="429.47" cy="198.50" r="1.35"/>
<circle cx="433.74" cy="197.70" r="1.35"/>
<circle cx="438.02" cy="197.13" r="1.35"/>
<circle cx="442.29" cy="196.79" r="1.35"/>
<circle cx="446.57" cy="197.36" r="1.35"/>
<circle cx="450.84" cy="198.04" r="1.35"/>
<circle cx="455.11" cy="198.84" r="1.35"/>
<circle cx="459.39" cy="199.98" r="1.35"/>
<circle cx="463.66" cy="201.12" r="1.35"/>
<circle cx="467.94" cy="202.26" r="1.35"/>
<circle cx="472.21" cy="203.63" r="1.35"/>
<circle cx="476.49" cy="205.11" r="1.35"/>
<circle cx="480.76" cy="206.48" r="1.35"/>
<circle cx="485.03" cy="207.62" r="1.35"/>
<circle cx="489.31" cy="208.53" r="1.35"/>
<circle cx="493.58" cy="209.33" r="1.35"/>
<circle cx="497.86" cy="209.67" r="1.35"/>
<circle cx="502.13" cy="209.10" r="1.35"/>
<circle cx="506.41" cy="210.47" r="1.35"/>
<circle cx="510.68" cy="235.32" r="1.35"/>
<circle cx="514.95" cy="262.68" r="1.35"/>
<circle cx="519.23" cy="271.23" r="1.35"/>
<circle cx="523.50" cy="274.54" r="1.35"/>
<circle cx="527.78" cy="276.02" r="1.35"/>
<circle cx="532.05" cy="276.70" r="1.35"/>
<circle cx="536.33" cy="277.04" r="1.35"/>
<circle cx="540.60" cy="277.27" r="1.35"/>
</g>
<line x1="461.00" y1="171.60" x2="477.20" y2="171.60" stroke="#1a1a1a" stroke-width="0.8"/>
<line x1="461.00" y1="181.50" x2="477.20" y2="181.50" stroke="#c0201c" stroke-width="0.8"/>
<circle cx="469.10" cy="171.60" r="1.4" fill="#fff" stroke="#1a1a1a" stroke-width="0.6"/>
<circle cx="469.10" cy="181.50" r="1.4" fill="#fff" stroke="#c0201c" stroke-width="0.6"/>
<text x="479.20" y="173.90" font-size="6.90" fill="#111" font-weight="bold" text-anchor="start" textLength="41.60" lengthAdjust="spacingAndGlyphs" >Flat mp-TiO<tspan font-size="75%" dy="0.24em">2</tspan></text>
<text x="479.20" y="183.80" font-size="6.90" fill="#111" font-weight="bold" text-anchor="start" textLength="53.20" lengthAdjust="spacingAndGlyphs" >1D GNP mp-TiO<tspan font-size="75%" dy="0.24em">2</tspan></text>
</svg></body></html>
